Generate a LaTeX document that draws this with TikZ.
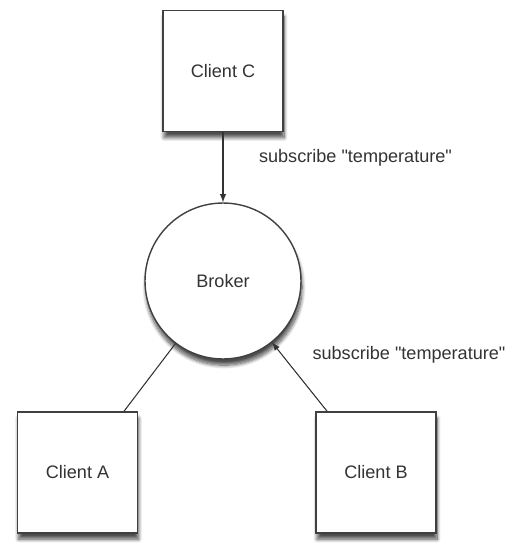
\documentclass[tikz,border=0pt]{standalone}
\usepackage{fontspec}
\setmainfont{Liberation Sans}
\usetikzlibrary{shapes,arrows,shadows.blur}

\tikzset{
    client/.style={draw=black!75, line width=0.8pt, fill=white, rectangle,
        minimum width=2.4cm, minimum height=2.42cm,
        blur shadow={shadow xshift=0.6pt, shadow yshift=-3.5pt, shadow opacity=70, shadow blur steps=10}},
    hub/.style={draw=black!75, line width=0.8pt, fill=white, circle,
        minimum size=3.12cm,
        blur shadow={shadow xshift=0.6pt, shadow yshift=-3.5pt, shadow opacity=70, shadow blur steps=10}},
    msg/.style={text=black!80},
    link/.style={draw=black!80, line width=0.6pt}
}

\begin{document}
\begin{tikzpicture}[x=0.02cm, y=-0.02cm, every node/.style={font=\fontsize{10.3}{12}\selectfont, text=black!80}]
\useasboundingbox (0,0) rectangle (512,555);
% publishers and subscribers
\node[client] (clientC) at (223,71) {Client C};
\node[hub] (broker) at (223,281) {Broker};
\node[client] (clientA) at (77.5,472.5) {Client A};
\node[client] (clientB) at (376,472.5) {Client B};
% subscriptions
\node[msg] (subC) at (355.5,158) {subscribe \textquotedbl temperature\textquotedbl};
\node[msg] (subB) at (409,355) {subscribe \textquotedbl temperature\textquotedbl};
\draw [link, -latex] (clientC) -- (broker);
\draw [link, -latex] (clientB) -- (broker);
\draw [link] (clientA) -- (broker);
\end{tikzpicture}
\end{document}
